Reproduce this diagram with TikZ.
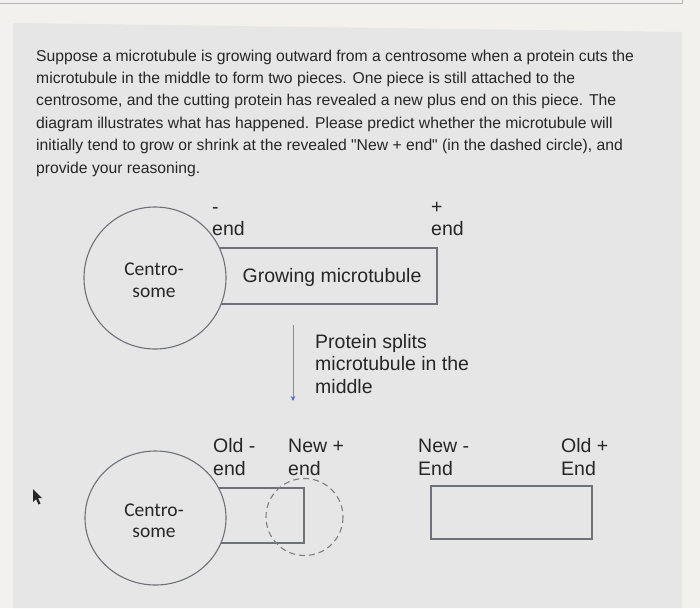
\documentclass[tikz,border=0pt]{standalone}
\usepackage{fontspec}
\setmainfont{Liberation Sans}
\newfontfamily\calib{Carlito}
\usetikzlibrary{arrows.meta}
\definecolor{paper}{HTML}{F2F1EE}
\definecolor{panel}{HTML}{E6E6E6}
\definecolor{ink}{HTML}{262626}
\definecolor{stroke}{HTML}{6E717A}
\definecolor{dashc}{HTML}{7C7E84}
\definecolor{tipc}{HTML}{4F68CC}
\tikzset{
  body/.style={anchor=base west, align=left, inner sep=0pt, text=ink, font=\fontsize{15.7}{22.4}\selectfont},
  lab/.style={anchor=base west, align=left, inner sep=0pt, text=ink, font=\fontsize{19.5}{22.5}\selectfont},
  clab/.style={anchor=base, align=center, inner sep=0pt, text=ink, font=\calib\fontsize{19.5}{22}\selectfont},
  tube/.style={draw=stroke, line width=1.1pt},
  cell/.style={draw=stroke, line width=1.1pt, fill=panel},
  cut/.style={draw=dashc, line width=1.1pt, dash pattern=on 6pt off 4pt},
}
\begin{document}
\begin{tikzpicture}[x=1pt,y=-1pt]
\useasboundingbox (0,0) rectangle (700,608);
\fill[paper] (0,0) rectangle (700,608);
\draw[stroke!50, line width=0.6pt] (0,3) -- (682,3) -- (682,0);
\fill[panel] (13,23) -- (682,32) -- (682,608) -- (13,608) -- cycle;

\node[body] (q) at (36,173) {Suppose a microtubule is growing outward from a centrosome when a protein cuts the\\
microtubule in the middle to form two pieces. One piece is still attached to the\\
centrosome, and the cutting protein has revealed a new plus end on this piece. The\\
diagram illustrates what has happened. Please predict whether the microtubule will\\
initially tend to grow or shrink at the revealed \textquotedbl New + end\textquotedbl\ (in the dashed circle), and\\
provide your reasoning.};

% top diagram
\draw[tube] (200,248) rectangle (437,304);
\node[lab, anchor=center] (grow) at (332,277) {Growing microtubule};
\draw[cell] (155,278) circle[radius=71];
\node[clab] (c1a) at (154,275) {Centro-};
\node[clab] (c1b) at (154,297) {some};
\node[lab] (m1) at (212,213) {-};
\node[lab] (m1e) at (212,235) {end};
\node[lab] (p1) at (431,213) {+};
\node[lab] (p1e) at (431,235) {end};

\coordinate (arrA) at (293,325);
\coordinate (arrB) at (293,401);
\draw[draw=stroke!80, line width=0.6pt, -{Stealth[length=5pt,width=4.5pt,fill=tipc,color=tipc]}] (arrA) -- (arrB);
\node[lab] (split) at (315,393) {Protein splits\\microtubule in the\\middle};

% bottom diagram
\draw[tube] (200,488) rectangle (304,543);
\draw[cell] (155.5,518) ellipse[x radius=70.5, y radius=67];
\node[clab] (c2a) at (154,516) {Centro-};
\node[clab] (c2b) at (154,537) {some};
\draw[cut] (304.5,517) circle[radius=38.5];
\node[lab] (om) at (213,475) {Old -\\end};
\node[lab] (np) at (288,475) {New +\\end};
\draw[tube] (431,486) rectangle (592,539);
\node[lab] (nm) at (418,475) {New -\\End};
\node[lab] (op) at (561,475) {Old +\\End};

% mouse pointer
\fill[black!85] (33,489) -- (33,502) -- (36,499) -- (38.5,504.5) -- (40.5,503.5) -- (38,498) -- (42,498) -- cycle;
\end{tikzpicture}
\end{document}
